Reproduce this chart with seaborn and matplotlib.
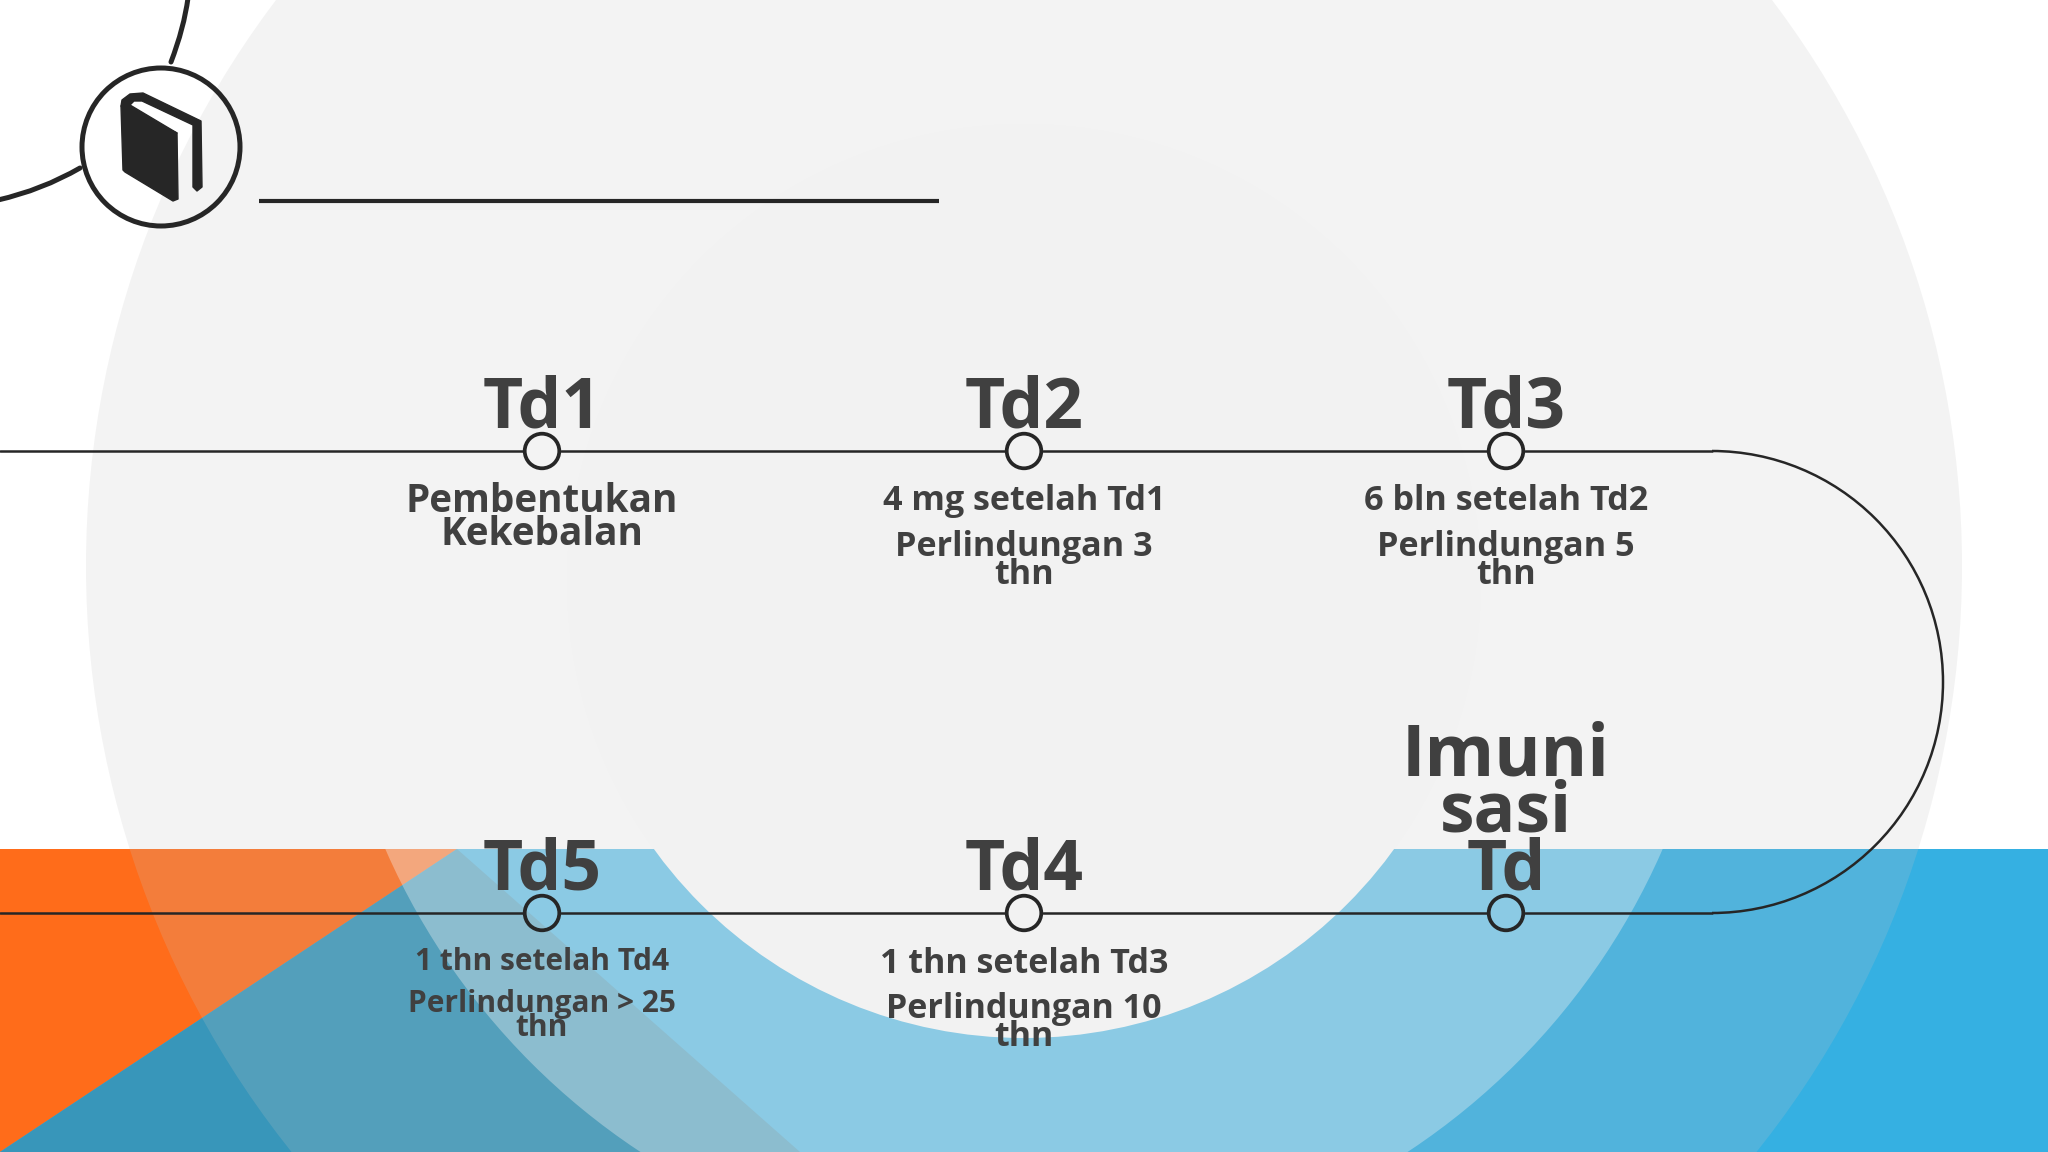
import numpy as np
import pandas as pd
import seaborn as sns
import matplotlib.pyplot as plt
from matplotlib.patches import Arc, Circle, Polygon, PathPatch
from matplotlib.path import Path

# stages of the schedule, in the order the line runs
stages = ["Td1", "Td2", "Td3", "Imunisasi Td", "Td4", "Td5"]
columns = [0, 1, 2, 2, 1, 0]
rows = [0, 0, 0, 1, 1, 1]

headings = {
    "Td1": ["Td1"],
    "Td2": ["Td2"],
    "Td3": ["Td3"],
    "Imunisasi Td": ["Imuni", "sasi", "Td"],
    "Td4": ["Td4"],
    "Td5": ["Td5"],
}
notes = {
    "Td1": ["Pembentukan", "Kekebalan"],
    "Td2": ["4 mg setelah Td1", "Perlindungan 3", "thn"],
    "Td3": ["6 bln setelah Td2", "Perlindungan 5", "thn"],
    "Imunisasi Td": [],
    "Td4": ["1 thn setelah Td3", "Perlindungan 10", "thn"],
    "Td5": ["1 thn setelah Td4", "Perlindungan > 25", "thn"],
}

sns.set_theme(style="white")
plt.rcParams['font.family'] = ['Open Sans', 'DejaVu Sans']

COL_X = [542, 1024, 1506]
ROW_Y = [451, 913]
INK = "#404040"
LINE = "#262626"
NODE_R = 19

df = pd.DataFrame({"stage": stages, "col": columns, "row": rows})
df["x"] = [COL_X[c] for c in df["col"]]
df["y"] = [ROW_Y[r] for r in df["row"]]

fig = plt.figure(figsize=(20.48, 11.52), dpi=100)
ax = fig.add_axes([0, 0, 1, 1])
ax.set_xlim(0, 2048)
ax.set_ylim(1152, 0)
ax.axis("off")

# background: band, orange and dark triangles, then the rings
ax.add_patch(Polygon([(0, 849), (2048, 849), (2048, 1152), (0, 1152)], color="#35b0e2", lw=0, zorder=1))
ax.add_patch(Polygon([(0, 849), (457, 849), (0, 1152)], color="#ff6c1a", lw=0, zorder=2))
ax.add_patch(Polygon([(457, 849), (800, 1152), (0, 1152)], color="#3896ba", lw=0, zorder=2))

ax.add_patch(Circle((1024, 566), 938, color="#c4c4c4", alpha=0.2, lw=0, zorder=3))
ax.add_patch(Circle((1024, 570), 697, color="#f3f3f3", alpha=0.36, lw=0, zorder=3))
ax.add_patch(Circle((1024, 581), 457, color="#f2f2f2", lw=0, zorder=4))

# the line runs between the nodes, which stay open, and bends on the right
gaps = [(0, 542 - NODE_R), (542 + NODE_R, 1024 - NODE_R), (1024 + NODE_R, 1506 - NODE_R), (1506 + NODE_R, 1712)]
rail = pd.DataFrame([
    {"x": x, "y": y, "part": f"{y}-{i}"}
    for y in ROW_Y for i, g in enumerate(gaps) for x in g
])
sns.lineplot(data=rail, x="x", y="y", units="part", estimator=None, color=LINE, lw=1.8, ax=ax, zorder=5)
ax.add_patch(Arc((1712, 682), 462, 462, theta1=-90, theta2=90, color=LINE, lw=1.8, zorder=5))

sns.scatterplot(data=df, x="x", y="y", s=620, color="none", edgecolor=LINE, linewidth=2.7,
                legend=False, ax=ax, zorder=6)
ax.set_xlabel("")
ax.set_ylabel("")

# heading and note baselines, one list per stage
head_y = {"Td1": [427], "Td2": [427], "Td3": [427], "Imunisasi Td": [775, 832, 889], "Td4": [889], "Td5": [889]}
note_y = {"Td1": [512, 545], "Td2": [510, 556, 584], "Td3": [510, 556, 584], "Imunisasi Td": [],
          "Td4": [973, 1018, 1046], "Td5": [970, 1012, 1036]}
note_size = {"Td1": 27.8, "Td2": 24.6, "Td3": 24.6, "Imunisasi Td": 24.6, "Td4": 24.5, "Td5": 21.5}

for _, r in df.iterrows():
    for line, y in zip(headings[r["stage"]], head_y[r["stage"]]):
        size = 51 if line == "Imuni" else 50
        ax.text(r["x"], y, line, ha="center", va="baseline", fontsize=size, fontweight="bold", color=INK, zorder=7)
    for line, y in zip(notes[r["stage"]], note_y[r["stage"]]):
        ax.text(r["x"], y, line, ha="center", va="baseline", fontsize=note_size[r["stage"]],
                fontweight="bold", color=INK, zorder=7)

# icon top left
ax.add_patch(Circle((161, 147), 79, fill=False, ec=LINE, lw=3.6, zorder=8))
for pts in [[(188, -2), (184, 28), (171, 62)], [(-2, 200), (42, 190), (80, 168)]]:
    ax.add_patch(PathPatch(Path(pts, [Path.MOVETO, Path.CURVE3, Path.CURVE3]), fill=False, ec=LINE, lw=3.6,
                           capstyle="round", zorder=8))
ax.add_patch(Polygon([(121, 106), (177, 133), (178, 199), (173, 201), (125, 172), (123, 170)],
                     closed=True, fc=LINE, ec=LINE, lw=1, joinstyle="round", zorder=8))
ax.add_patch(Polygon([(121, 106), (122, 100), (130, 94), (143, 93), (201, 121), (202, 187), (197, 191),
                      (193, 187), (193, 125), (142, 101), (134, 101), (130, 105), (177, 133), (121, 106)],
                     closed=True, fc=LINE, ec=LINE, lw=1, joinstyle="round", zorder=8))
sns.lineplot(x=[259, 939], y=[201, 201], color=LINE, lw=3, solid_capstyle="butt", ax=ax, zorder=8)

ax.set_xlim(0, 2048)
ax.set_ylim(1152, 0)
fig.savefig("out.png", dpi=100)
